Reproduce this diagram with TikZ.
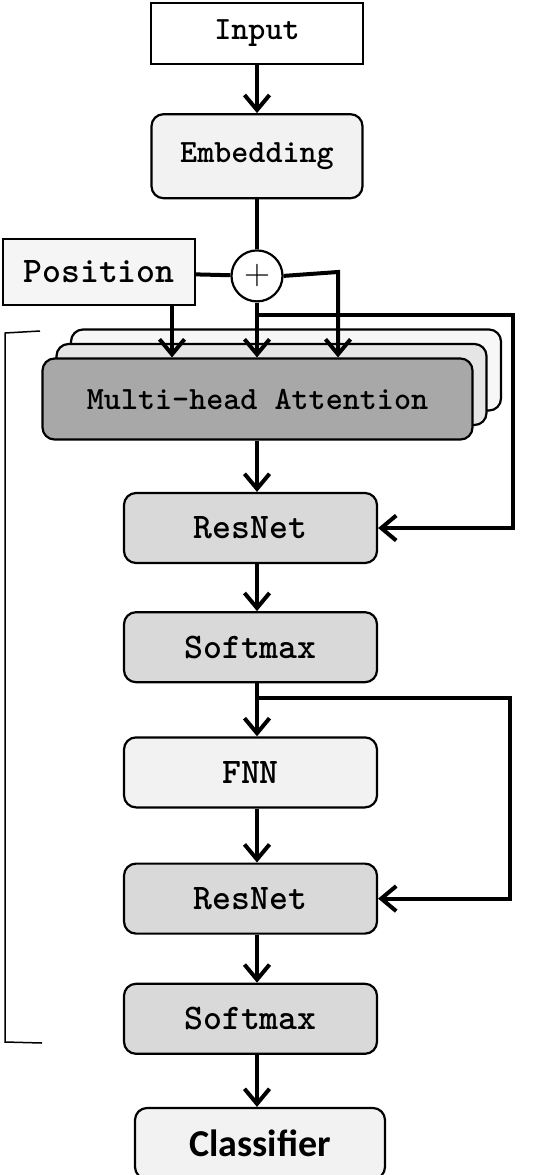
\documentclass[tikz,border=0pt]{standalone}
\usepackage{fontspec}
\setsansfont{Carlito}
\usetikzlibrary{positioning,calc,arrows.meta}

\begin{document}
\begin{tikzpicture}[x=1pt,y=1pt,
      box/.style={
        rectangle,
        draw,
        line width=2.2pt,
        inner sep=0pt,
        minimum height=70pt,
        font=\fontsize{36}{40}\selectfont\ttfamily\bfseries
      },
      smalltext/.style={font=\fontsize{32.5}{36}\selectfont\ttfamily\bfseries},
      layer/.style={box,rounded corners=12pt,minimum width=253pt,fill=gray!30},
      lightlayer/.style={layer,fill=gray!10},
      head/.style={box,rounded corners=12pt,minimum width=430pt,minimum height=81pt},
      arrow/.style={-{Straight Barb[length=15pt,width=25pt]},line width=4pt},
      link/.style={line width=4pt}
    ]
    \useasboundingbox (0,0) rectangle (538,-1175);

    % Input and Embedding
    \node[box,smalltext,fill=white,minimum width=212pt,minimum height=61pt] (input) at (257,-33.5) {Input};
    \node[lightlayer,smalltext,minimum width=211pt,minimum height=84pt,below=48pt of input] (embed) {Embedding};
    \node[circle,draw,line width=2.2pt,fill=white,minimum size=51pt,inner sep=0pt,
      font=\fontsize{36}{36}\selectfont\rmfamily,below=50pt of embed] (plus) {+};
    \node[box,fill=gray!8,minimum width=192pt,minimum height=66pt] (pos) at (99,-272) {Position};

    % Multi-head Attention (stacked heads)
    \node[head,fill=gray!6] (mha3) at (286,-370) {};
    \node[head,fill=gray!20] (mha2) at (271.5,-384.5) {};
    \node[head,smalltext,fill=gray!68] (mha) at (257.5,-399) {Multi-head Attention};

    % Encoder column
    \node[layer] (res1) at (250.5,-528) {ResNet};
    \node[layer,below=47pt of res1] (soft1) {Softmax};
    \node[lightlayer,below=53pt of soft1] (fnn) {FNN};
    \node[layer,below=54pt of fnn] (res2) {ResNet};
    \node[layer,below=48pt of res2] (soft2) {Softmax};
    \node[lightlayer,minimum width=250pt,minimum height=71pt,font=\fontsize{38}{42}\selectfont\sffamily\bfseries,
      below=52pt of soft2,xshift=9.5pt] (cls) {Classifier};

    \coordinate (spine) at (257,0);
    \coordinate (tap) at (338,-272);
    \coordinate (split1) at (257,-315);
    \coordinate (ret1) at (513,-315);
    \coordinate (split2) at (257,-698);
    \coordinate (ret2) at (510,-698);

    \draw[arrow] (input) -- (embed);
    \draw[link] (embed) -- (plus);
    \draw[link] (pos) -- (plus);
    \draw[arrow] (plus) -- (plus |- mha.north);
    \draw[arrow] (plus.east) -- (tap) -- (tap |- mha.north);
    \draw[arrow] ([xshift=73pt]pos.south) -- ([xshift=73pt]pos.south |- mha.north);
    \draw[arrow] (mha.south -| spine) -- (res1.north -| spine);
    \foreach \a/\b in {res1/soft1,soft1/fnn,fnn/res2,res2/soft2,soft2/cls}
      \draw[arrow] (\a.south -| spine) -- (\b.north -| spine);

    % Residual connections
    \draw[arrow] (split1) -- (ret1) -- (ret1 |- res1.east) -- (res1.east);
    \draw[arrow] (split2) -- (ret2) -- (ret2 |- res2.east) -- (res2.east);

    % Bracket
    \draw[line width=1.5pt] (40,-331) -- (5,-333) -- (5,-1042) -- (42,-1043);
  \end{tikzpicture}
\end{document}
